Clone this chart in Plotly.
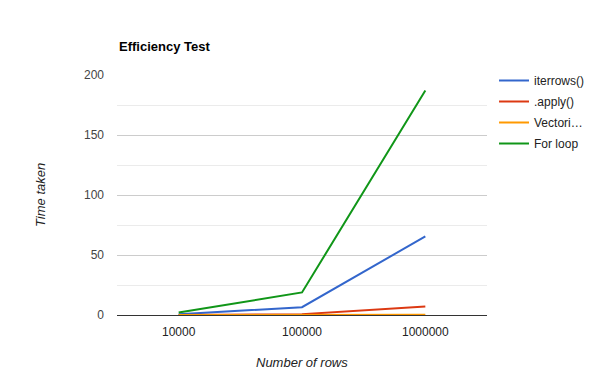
import plotly.graph_objects as go

categories = ["10000", "100000", "1000000"]
iterrows_t = [0.6, 6.5, 65.5]
apply_t = [0.07, 0.7, 7.0]
vectorized_t = [0.005, 0.02, 0.15]
forloop_t = [2.0, 18.8, 187.0]

series = [
    ("iterrows()", iterrows_t, "#3366cc"),
    (".apply()", apply_t, "#dc3912"),
    ("Vectori\u2026", vectorized_t, "#ff9900"),
    ("For loop", forloop_t, "#109618"),
]

fig = go.Figure()
for name, vals, color in series:
    fig.add_trace(go.Scatter(
        x=categories, y=vals, name=name, mode="lines",
        line=dict(color=color, width=2), legendgroup=name,
    ))

FONT = "Liberation Sans, Arial, sans-serif"
# page body has an 8px default margin, compensate
fig.update_layout(
    width=600, height=390,
    margin=dict(l=109, r=121, t=67, b=83, autoexpand=False),
    paper_bgcolor="white", plot_bgcolor="white",
    font=dict(family=FONT, size=12, color="#444"),
    xaxis=dict(type="category", range=[-0.5, 2.5], showgrid=False,
               showline=False, ticks="", automargin=False,
               ticklabelstandoff=8,
               tickfont=dict(size=12, color="#222")),
    yaxis=dict(range=[0, 200], tickmode="linear", tick0=0, dtick=50, automargin=False,
               gridcolor="#cccccc", gridwidth=1,
               minor=dict(tickmode="linear", dtick=25, tick0=0, showgrid=True,
                          gridcolor="#ebebeb", gridwidth=1),
               zeroline=True, zerolinecolor="#333333", zerolinewidth=1,
               ticks="", ticklabelstandoff=12,
               tickfont=dict(size=12, color="#444")),
    legend=dict(x=1.019, y=1.0375, xanchor="left", yanchor="top",
                traceorder="grouped", tracegroupgap=2,
                font=dict(size=12, color="#222"), bgcolor="rgba(0,0,0,0)"),
    annotations=[
        dict(text="<b>Efficiency Test</b>", xref="paper", yref="paper",
             x=0, y=1 + 28/240, xanchor="left", yanchor="middle",
             showarrow=False, font=dict(family=FONT, size=13, color="#000")),
        dict(text="<i>Number of rows</i>", xref="paper", yref="paper",
             x=0.5, y=-47/240, xanchor="center", yanchor="middle",
             showarrow=False, font=dict(family=FONT, size=13, color="#222")),
        dict(text="<i>Time taken</i>", xref="paper", yref="paper",
             x=-77/370, y=0.5, xanchor="center", yanchor="middle", textangle=-90,
             showarrow=False, font=dict(family=FONT, size=13, color="#222")),
    ],
)

fig.write_html("out.html")
